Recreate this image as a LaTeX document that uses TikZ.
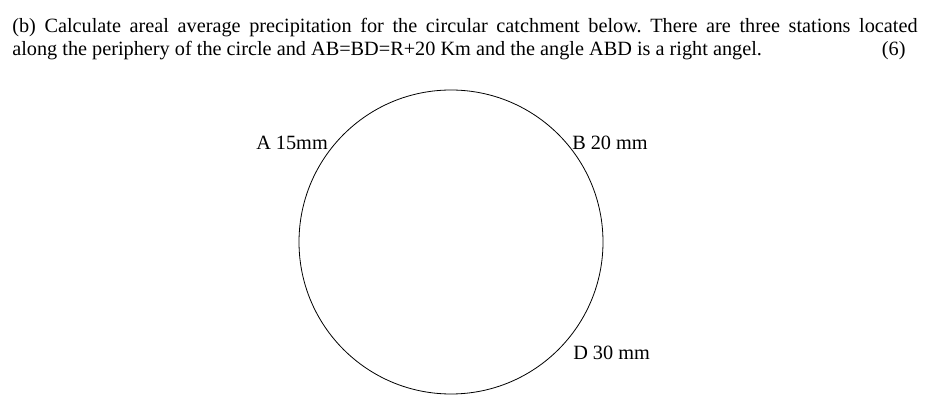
\documentclass[tikz,border=0pt]{standalone}
\usepackage{fontspec}
\setmainfont{Liberation Serif}
\usepackage{tikz}
\frenchspacing

\tikzset{
	station/.style={anchor=base west, inner sep=0pt, font=\fontsize{15.2}{17.25}\selectfont}
}

\begin{document}
\begin{tikzpicture}[x=0.75pt, y=-0.75pt]
	%%%%% START %%%%%
	
	\useasboundingbox (0, 0) rectangle (932, 409);
	
	\node[anchor=north west, inner sep=0pt, text width=679pt, align=justify,
		font=\fontsize{15.2}{17.25}\selectfont] (question) at (12, 18)
		{(b) Calculate areal average precipitation for the circular catchment below. There are three stations located\linebreak along the periphery of the circle and AB=BD=R+20 Km and the angle ABD is a right angel.\hfill(6)\kern9pt\mbox{}};
	
	\node[circle, draw, line width=0.6pt, minimum size=228pt, inner sep=0pt] (catchment) at (451, 242) {};
	
	\node[station] (A) at (256, 150) {A 15mm};
	\node[station] (B) at (572, 150) {B 20 mm};
	\node[station] (D) at (573, 360) {D 30 mm};
	
	%%%%% END %%%%%
\end{tikzpicture}
\end{document}
